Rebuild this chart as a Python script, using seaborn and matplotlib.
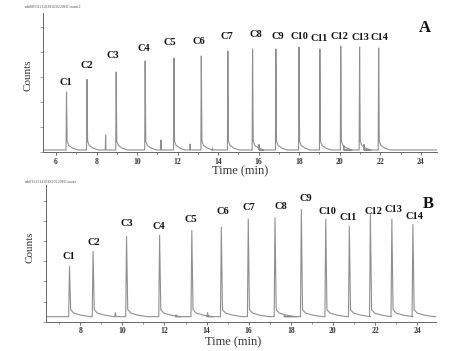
import numpy as np
import pandas as pd
import seaborn as sns
import matplotlib.pyplot as plt
from matplotlib.ticker import MultipleLocator

# ---------- peak data ----------
names = ['C1', 'C2', 'C3', 'C4', 'C5', 'C6', 'C7',
         'C8', 'C9', 'C10', 'C11', 'C12', 'C13', 'C14']

# panel A
a_times = [6.52, 7.53, 8.97, 10.40, 11.82, 13.17, 14.48,
           15.70, 16.85, 17.99, 19.02, 20.05, 20.98, 21.92]
a_heights = [2.40, 2.90, 3.20, 3.64, 3.76, 3.84, 4.04,
             4.12, 4.12, 4.20, 4.12, 4.24, 4.20, 4.16]
a_label_x = [6.48, 7.52, 8.79, 10.36, 11.64, 13.06, 14.43,
             15.85, 16.93, 18.01, 18.99, 19.97, 21.00, 21.98]
a_label_y = [2.76, 3.44, 3.84, 4.12, 4.36, 4.40, 4.60,
             4.68, 4.60, 4.60, 4.52, 4.60, 4.56, 4.56]
a_small_t = [8.45, 11.18, 12.62, 13.72, 16.02, 20.20, 21.20]
a_small_h = [0.68, 0.48, 0.32, 0.16, 0.30, 0.25, 0.30]
a_base = 0.08

# panel B
b_times = [7.49, 8.61, 10.20, 11.77, 13.30, 14.70, 15.98,
           17.25, 18.50, 19.66, 20.78, 21.78, 22.80, 23.80]
b_heights = [2.75, 3.50, 4.25, 4.30, 4.53, 4.70, 5.10,
             5.17, 5.58, 5.10, 4.75, 5.33, 5.10, 4.83]
b_label_x = [7.45, 8.65, 10.20, 11.75, 13.26, 14.79, 16.00,
             17.55, 18.71, 19.75, 20.71, 21.91, 22.87, 23.87]
b_label_y = [3.25, 3.95, 4.87, 4.75, 5.08, 5.50, 5.67,
             5.75, 6.14, 5.50, 5.20, 5.50, 5.58, 5.25]
b_small_t = [9.67, 12.55, 14.05, 17.70]
b_small_h = [0.45, 0.35, 0.45, 0.32]
b_base = 0.25


def trace(times, heights, small_t, small_h, base, x0, x1, width):
    # polyline through the read-off peaks: baseline, apex, tailing shoulder
    pts = [(x0, base)]
    peaks = sorted(list(zip(times, heights, [True] * len(times))) +
                   list(zip(small_t, small_h, [False] * len(small_t))))
    for t, h, big in peaks:
        w = width if big else width * 0.8
        pts.append((t - w, base))
        pts.append((t, h))
        if big:
            pts.append((t + w * 1.4, base + 0.35))
            pts.append((t + w * 5, base + 0.18))
            pts.append((t + w * 14, base + 0.07))
            pts.append((t + w * 25, base))
        else:
            pts.append((t + w, base))
    pts.append((x1, base))
    return pd.DataFrame(pts, columns=['time', 'counts'])


sns.set_style('white')
plt.rcParams['font.family'] = ['Liberation Serif', 'DejaVu Serif']

fig = plt.figure(figsize=(4.74, 3.51), dpi=100)
ax_a = fig.add_axes([0.0907, 0.567, 0.8313, 0.396])
ax_b = fig.add_axes([0.0964, 0.0835, 0.8236, 0.3895])

grey = '#8f8f8f'

panels = [
    (ax_a, trace(a_times, a_heights, a_small_t, a_small_h, a_base, 5.36, 24.8, 0.022),
     a_label_x, a_label_y, (5.36, 24.8), (0, 5.56), 'A', range(6, 25, 2)),
    (ax_b, trace(b_times, b_heights, b_small_t, b_small_h, b_base, 6.36, 24.9, 0.04),
     b_label_x, b_label_y, (6.36, 24.9), (0, 6.8), 'B', range(8, 25, 2)),
]

for ax, df, lx, ly, xlim, ylim, tag, xt in panels:
    sns.lineplot(data=df, x='time', y='counts', ax=ax, sort=False,
                 estimator=None, color=grey, linewidth=0.8)
    for n, x, y in zip(names, lx, ly):
        ax.text(x, y, n, ha='center', va='center', fontsize=7.5,
                fontweight='bold', color='#111111')
    ax.set_xlim(*xlim)
    ax.set_ylim(*ylim)
    ax.set_xticks(list(xt))
    ax.xaxis.set_minor_locator(MultipleLocator(1))
    ax.yaxis.set_major_locator(MultipleLocator(1))
    ax.set_yticklabels([])
    ax.tick_params(axis='x', which='major', length=2.5, width=0.6,
                   labelsize=5.5, pad=1.5, colors='#555555', labelcolor='#333333',
                   bottom=True)
    ax.tick_params(axis='x', which='minor', length=1.5, width=0.5,
                   colors='#555555', bottom=True)
    ax.tick_params(axis='y', length=2, width=0.5, colors='#777777', left=True)
    for lab in ax.get_xticklabels():
        lab.set_fontweight('bold')
    for s in ['top', 'right']:
        ax.spines[s].set_visible(False)
    for s in ['left', 'bottom']:
        ax.spines[s].set_color('#666666')
        ax.spines[s].set_linewidth(0.7)
    ax.set_xlabel('')
    ax.set_ylabel('')
    ax.text(0.985 if tag == 'A' else 0.995, 0.89 if tag == 'A' else 0.86, tag,
            transform=ax.transAxes, ha='right', va='center',
            fontsize=12, fontweight='bold', color='#111111')

fig.text(28 / 474, 1 - 75 / 351, 'Counts', rotation=90, ha='center', va='center',
         fontsize=8, color='#333333')
fig.text(30 / 474, 1 - 247 / 351, 'Counts', rotation=90, ha='center', va='center',
         fontsize=8, color='#333333')
fig.text(240 / 474, 1 - 171 / 351, 'Time (min)', ha='center', va='center',
         fontsize=9, color='#333333')
fig.text(233 / 474, 1 - 342 / 351, 'Time (min)', ha='center', va='center',
         fontsize=9, color='#333333')
fig.text(25 / 474, 1 - 7 / 351, 'mb88F01214181820220HCounts2', ha='left',
         va='center', fontsize=3, color='#555555')
fig.text(25 / 474, 1 - 182 / 351, 'mb8121314181820220HCounts', ha='left',
         va='center', fontsize=3, color='#555555')

fig.savefig('out.png', dpi=100)
